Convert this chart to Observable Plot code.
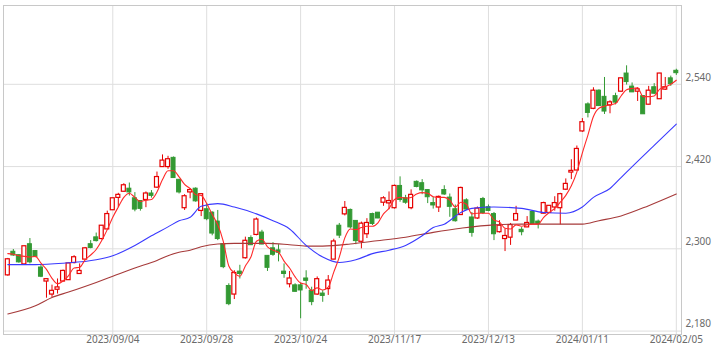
<!DOCTYPE html>
<html><head><meta charset="utf-8">
<script src="https://cdn.jsdelivr.net/npm/d3@7"></script>
<script src="https://cdn.jsdelivr.net/npm/@observablehq/plot@0.6"></script>
<style>
html,body{margin:0;padding:0;background:#fff;overflow:hidden;}
#chart svg{display:block;}
</style></head><body><div id="chart"></div>
<script>
const dates = [
"2023/08/07","2023/08/08","2023/08/09","2023/08/10","2023/08/14","2023/08/15","2023/08/16","2023/08/17","2023/08/18","2023/08/21","2023/08/22","2023/08/23","2023/08/24","2023/08/25","2023/08/28","2023/08/29","2023/08/30","2023/08/31",
"2023/09/01","2023/09/04","2023/09/05","2023/09/06","2023/09/07","2023/09/08","2023/09/11","2023/09/12","2023/09/13","2023/09/14","2023/09/15","2023/09/19","2023/09/20","2023/09/21","2023/09/22","2023/09/25","2023/09/26","2023/09/27","2023/09/28","2023/09/29",
"2023/10/02","2023/10/03","2023/10/04","2023/10/05","2023/10/06","2023/10/10","2023/10/11","2023/10/12","2023/10/13","2023/10/16","2023/10/17","2023/10/18","2023/10/19","2023/10/20","2023/10/23","2023/10/24","2023/10/25","2023/10/26","2023/10/27","2023/10/30","2023/10/31",
"2023/11/01","2023/11/02","2023/11/06","2023/11/07","2023/11/08","2023/11/09","2023/11/10","2023/11/13","2023/11/14","2023/11/15","2023/11/16","2023/11/17","2023/11/20","2023/11/21","2023/11/22","2023/11/24","2023/11/27","2023/11/28","2023/11/29","2023/11/30",
"2023/12/01","2023/12/04","2023/12/05","2023/12/06","2023/12/07","2023/12/08","2023/12/11","2023/12/12","2023/12/13","2023/12/14","2023/12/15","2023/12/18","2023/12/19","2023/12/20","2023/12/21","2023/12/22","2023/12/25","2023/12/26","2023/12/27","2023/12/28","2023/12/29",
"2024/01/04","2024/01/05","2024/01/09","2024/01/10","2024/01/11","2024/01/12","2024/01/15","2024/01/16","2024/01/17","2024/01/18","2024/01/19","2024/01/22","2024/01/23","2024/01/24","2024/01/25","2024/01/26","2024/01/29","2024/01/30","2024/01/31",
"2024/02/01","2024/02/02","2024/02/05"];

const open = [2262,2295,2290,2278,2306,2296,2272,2253,2234,2241,2253,2255,2280,2264,2285,2306,2316,2315,2329,2357,
2375,2384,2387,2373,2369,2372,2380,2390,2420,2420,2432,2400,2360,2383,2387,2356,2357,2352,2339,2306,
2245,2234,2266,2287,2315,2321,2323,2289,2300,2297,2266,2249,2246,2246,2256,2238,2234,2234,2242,2285,
2333,2351,2356,2340,2311,2322,2350,2352,2368,2367,2360,2391,2373,2360,2397,2395,2385,2366,2361,2385,
2374,2357,2350,2370,2345,2345,2372,2360,2350,2325,2315,2317,2342,2327,2332,2353,2339,2352,2353,2361,
2360,2387,2412,2415,2472,2510,2505,2530,2521,2510,2522,2530,2555,2536,2530,2522,2511,2535,2519,2533,
2548,2559];
const high = [2286,2299,2291,2304,2315,2297,2277,2256,2247,2256,2269,2279,2290,2278,2302,2312,2323,2334,2355,2374,
2381,2395,2396,2382,2370,2383,2385,2412,2437,2435,2434,2401,2379,2388,2389,2380,2366,2354,2356,2307,
2249,2268,2276,2317,2319,2345,2327,2290,2309,2306,2278,2267,2249,2250,2268,2244,2259,2239,2261,2314,
2337,2369,2358,2341,2339,2344,2352,2353,2376,2383,2393,2405,2378,2386,2399,2401,2386,2375,2377,2392,
2380,2364,2390,2373,2353,2361,2375,2364,2353,2341,2329,2337,2362,2331,2347,2355,2342,2368,2363,2376,
2381,2402,2430,2450,2490,2513,2535,2532,2550,2516,2527,2549,2567,2542,2535,2523,2537,2541,2556,2550,
2552,2562];
const low = [2260,2289,2279,2277,2278,2287,2258,2228,2229,2234,2252,2254,2278,2263,2284,2300,2310,2313,2328,2356,
2360,2383,2377,2354,2355,2360,2374,2388,2419,2416,2403,2380,2356,2373,2368,2347,2341,2319,2312,2271,
2217,2226,2256,2285,2305,2319,2306,2267,2289,2281,2257,2243,2237,2198,2241,2217,2232,2222,2232,2284,
2315,2348,2329,2306,2300,2315,2334,2344,2362,2357,2358,2368,2365,2357,2389,2379,2366,2358,2353,2378,
2346,2339,2349,2356,2317,2343,2350,2354,2312,2323,2296,2305,2341,2319,2331,2336,2329,2351,2352,2355,
2335,2385,2401,2414,2470,2491,2503,2508,2496,2497,2510,2528,2539,2528,2515,2496,2510,2525,2518,2531,
2537,2553];
const close = [2284,2291,2281,2303,2281,2289,2260,2255,2238,2243,2267,2278,2287,2267,2300,2302,2312,2333,2350,2373,
2378,2392,2383,2358,2359,2380,2378,2404,2428,2430,2404,2383,2376,2385,2370,2379,2344,2323,2315,2274,
2220,2264,2264,2311,2306,2342,2307,2273,2292,2295,2264,2256,2238,2240,2254,2223,2255,2232,2253,2310,
2320,2359,2332,2312,2336,2337,2337,2345,2373,2369,2391,2372,2368,2378,2391,2386,2376,2364,2375,2380,
2362,2341,2388,2358,2324,2358,2353,2356,2322,2333,2318,2334,2350,2325,2337,2337,2337,2366,2362,2366,
2379,2394,2413,2445,2484,2499,2530,2509,2501,2513,2514,2548,2544,2529,2532,2497,2530,2527,2555,2535,
2541,2557];

// short moving average (red), one value per session
const ma5 = [2293,2292,2290,2289,2288,2289,2279,2270,2257,2249,2253,2261,2272,2273,2284,2291,2299,2312,2328,2346,
2361,2375,2381,2375,2369,2371,2372,2383,2401,2414,2414,2405,2394,2388,2379,2378,2366,2350,2335,2311,
2275,2265,2260,2275,2288,2311,2314,2303,2298,2295,2282,2272,2259,2250,2248,2239,2243,2240,2244,2266,
2288,2316,2329,2328,2331,2333,2333,2338,2351,2359,2372,2375,2374,2375,2380,2382,2381,2376,2375,2375,
2371,2361,2368,2365,2351,2352,2352,2352,2342,2339,2330,2329,2335,2333,2335,2336,2336,2346,2353,2359,
2368,2378,2392,2412,2440,2466,2493,2505,2508,2510,2512,2523,2532,2534,2535,2522,2522,2523,2533,2536,
2540,2546];

// medium moving average (blue), sampled sessions
const ma25Idx = [0,5,10,16,19,23,26,29,31,33,35,38,41,45,48,51,54,57,60,63,66,69,72,75,77,79,82,84,88,93,97,101,104,106,109,111,117,121];
const ma25 = [2277,2277,2279,2284,2290,2305,2319,2332,2341,2346,2362,2366,2361,2351,2341,2329,2305,2288,2280,2284,2293,2298,2305,2319,2331,2336,2353,2359,2361,2359,2353,2352,2361,2375,2388,2404,2451,2482];

// long moving average (brown), sampled sessions
const ma75Idx = [0,5,8,11,16,19,23,27,29,31,33,35,38,41,47,51,54,57,62,66,72,77,82,88,93,100,104,107,111,116,121];
const ma75 = [2205,2217,2229,2237,2251,2260,2272,2283,2290,2295,2298,2303,2307,2308,2308,2306,2304,2304,2307,2311,2317,2324,2330,2335,2336,2336,2336,2341,2348,2363,2380];

const yTicks = [2180, 2300, 2420, 2540];
const xTickDates = ["2023/09/04","2023/09/28","2023/10/24","2023/11/17","2023/12/13","2024/01/11","2024/02/05"];

const upColor = "#e60000";
const downColor = "#339933";

const candles = dates.map((d, i) => ({i, date: d, open: open[i], high: high[i], low: low[i], close: close[i]}));
const ups = candles.filter(d => d.close >= d.open);
const downs = candles.filter(d => d.close < d.open);
const xTicks = xTickDates.map(d => dates.indexOf(d));
const hw = 0.36;
const ma5Data = ma5.map((v, i) => ({i, v}));
const ma25Data = ma25Idx.map((i, k) => ({i, v: ma25[k]}));
const ma75Data = ma75Idx.map((i, k) => ({i, v: ma75[k]}));

const chart = Plot.plot({
  width: 718,
  height: 352,
  marginLeft: 3,
  marginRight: 37,
  marginTop: 5,
  marginBottom: 18,
  x: {domain: [-0.78, 121.94], label: null},
  y: {domain: [2175, 2655], label: null},
  style: {fontFamily: "'Noto Sans', sans-serif", fontSize: "10px", color: "#6a6a6a", background: "#fff"},
  marks: [
    Plot.ruleY(yTicks, {stroke: "#dedede", strokeWidth: 1}),
    Plot.ruleX(xTicks, {stroke: "#dedede", strokeWidth: 1}),
    Plot.frame({stroke: "#c8c8c8"}),
    Plot.ruleX(downs, {x: "i", y1: "low", y2: "high", stroke: downColor, strokeWidth: 1}),
    Plot.ruleX(ups, {x: "i", y1: "low", y2: "high", stroke: upColor, strokeWidth: 1}),
    Plot.rect(downs, {x1: d => d.i - hw, x2: d => d.i + hw, y1: "open", y2: "close", fill: downColor, stroke: downColor, strokeWidth: 1, insetTop: -0.5, insetBottom: -0.5}),
    Plot.rect(ups, {x1: d => d.i - hw, x2: d => d.i + hw, y1: "open", y2: "close", fill: "#fff", stroke: upColor, strokeWidth: 1.2, insetTop: -0.5, insetBottom: -0.5}),
    Plot.line(ma75Data, {x: "i", y: "v", stroke: "#a63a3a", strokeWidth: 1.1, curve: "monotone-x"}),
    Plot.line(ma25Data, {x: "i", y: "v", stroke: "#3a3aff", strokeWidth: 1.1, curve: "monotone-x"}),
    Plot.line(ma5Data, {x: "i", y: "v", stroke: "#ff2a2a", strokeWidth: 1.1, curve: "monotone-x"}),
    Plot.axisY(yTicks, {anchor: "right", label: null, tickSize: 0, tickPadding: 4, dy: -7, tickFormat: d3.format(","), fill: "#6a6a6a"}),
    Plot.axisX(xTicks, {anchor: "bottom", label: null, tickSize: 0, tickPadding: 1, tickFormat: i => dates[i], fill: "#6a6a6a"})
  ]
});
document.getElementById("chart").appendChild(chart);
</script>
</body></html>
